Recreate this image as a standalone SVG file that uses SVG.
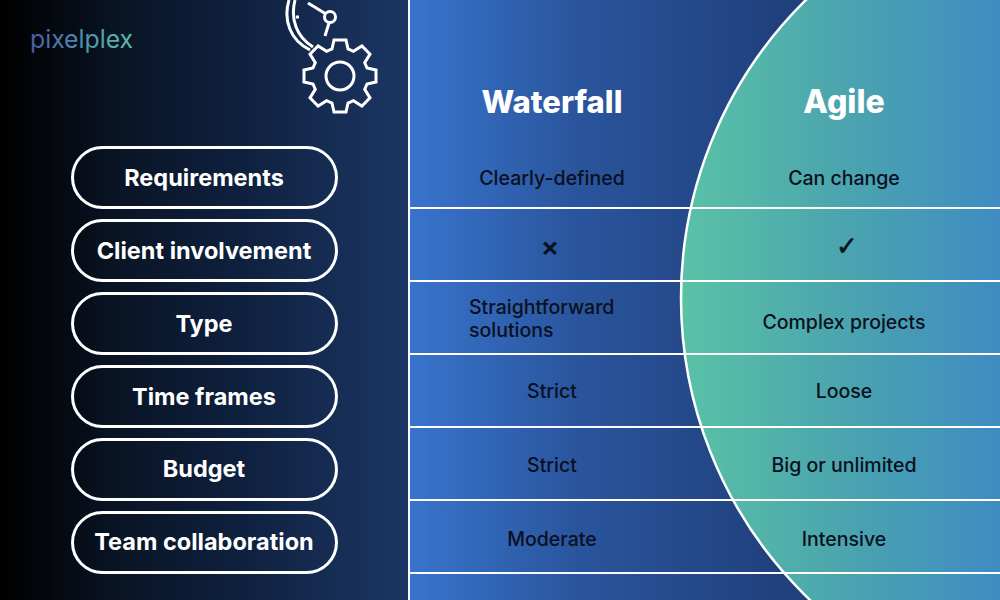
<svg xmlns="http://www.w3.org/2000/svg" width="1000" height="600" viewBox="0 0 1000 600">
<defs>
<linearGradient id="bgL" gradientUnits="userSpaceOnUse" x1="0" y1="0" x2="410" y2="0"><stop offset="0" stop-color="#000"/><stop offset="0.1" stop-color="#03060b"/><stop offset="0.3" stop-color="#0a1526"/><stop offset="0.6" stop-color="#0f2140"/><stop offset="1" stop-color="#1c3765"/></linearGradient>
<linearGradient id="bgR" gradientUnits="userSpaceOnUse" x1="410" y1="0" x2="780" y2="0"><stop offset="0" stop-color="#3874cc"/><stop offset="0.45" stop-color="#2a559d"/><stop offset="1" stop-color="#20407c"/></linearGradient>
<linearGradient id="teal" gradientUnits="userSpaceOnUse" x1="681" y1="0" x2="1000" y2="0"><stop offset="0" stop-color="#5ac2a6"/><stop offset="0.5" stop-color="#4ba5ae"/><stop offset="1" stop-color="#3f8cc2"/></linearGradient>
<linearGradient id="logo" gradientUnits="userSpaceOnUse" x1="30" y1="0" x2="133" y2="0"><stop offset="0" stop-color="#4a5aa8"/><stop offset="0.5" stop-color="#4f8fae"/><stop offset="1" stop-color="#58c2aa"/></linearGradient>
</defs>
<style>
.pill{fill:none;stroke:#fff;stroke-width:3}
.lbl{font:700 23.500px Inter,"Liberation Sans",sans-serif;fill:#fff;text-anchor:middle}
.cell{font:500 19.500px Inter,"Liberation Sans",sans-serif;fill:#0a1020;text-anchor:middle}
.head{font:800 31px Inter,"Liberation Sans",sans-serif;fill:#fff;text-anchor:middle}
.mark{font:700 22px "DejaVu Sans",sans-serif;fill:#0a1020;stroke:#0a1020;stroke-width:.6;text-anchor:middle}
.ln{stroke:#fff;stroke-width:2;fill:none}
.ic{stroke:#fff;stroke-width:3;fill:none}
</style>
<rect width="410" height="600" fill="url(#bgL)"/>
<rect x="410" width="590" height="600" fill="url(#bgR)"/>
<circle id="agile-circle" cx="1099" cy="298" r="418" fill="url(#teal)" stroke="#fff" stroke-width="2.500"/>
<g id="connectors">
<line class="ln" x1="409" y1="0" x2="409" y2="600"/>
<line class="ln" x1="409" y1="208" x2="1000" y2="208"/>
<line class="ln" x1="409" y1="281" x2="1000" y2="281"/>
<line class="ln" x1="409" y1="354" x2="1000" y2="354"/>
<line class="ln" x1="409" y1="427" x2="1000" y2="427"/>
<line class="ln" x1="409" y1="500" x2="1000" y2="500"/>
<line class="ln" x1="409" y1="573" x2="1000" y2="573"/>
</g>
<text id="logo-text" x="30" y="48" font-family="Inter,'Liberation Sans',sans-serif" font-size="25" font-weight="400" fill="url(#logo)" textLength="103" lengthAdjust="spacingAndGlyphs">pixelplex</text>
<g id="icon">
<path class="ic" d="M289 0C283 20 290 40 310 50"/>
<path class="ic" stroke-width="2" d="M295 0C290 20 297 37 313 47"/>
<line class="ic" stroke-width="2" x1="296" y1="17" x2="299" y2="17"/>
<line class="ic" x1="308" y1="3" x2="326" y2="14"/>
<line class="ic" x1="325" y1="36" x2="329" y2="23"/>
<circle class="ic" cx="330" cy="17" r="5.500"/>
<polygon class="ic" transform="translate(340 76)" points="-6,-36 6,-36 8,-27 13.4,-24.7 21.9,-30 30,-21.9 24.7,-13.4 27,-8 36,-6 36,6 27,8 24.7,13.4 30,21.9 21.9,30 13.4,24.7 8,27 6,36 -6,36 -8,27 -13.4,24.7 -21.9,30 -30,21.9 -24.7,13.4 -27,8 -36,6 -36,-6 -27,-8 -24.7,-13.4 -30,-21.9 -21.9,-30 -13.4,-24.7 -8,-27"/>
<circle class="ic" cx="340" cy="76" r="14"/>
</g>
<text class="head" x="552" y="113">Waterfall</text>
<text class="head" style="font-size:32px" x="844" y="113">Agile</text>
<g id="row-requirements"><rect class="pill" x="72.500" y="147.500" width="264" height="60" rx="30"/><text class="lbl" x="204" y="186">Requirements</text></g>
<g id="row-client"><rect class="pill" x="72.500" y="220.500" width="264" height="60" rx="30"/><text class="lbl" x="204" y="259">Client involvement</text></g>
<g id="row-type"><rect class="pill" x="72.500" y="293.500" width="264" height="60" rx="30"/><text class="lbl" x="204" y="332">Type</text></g>
<g id="row-time"><rect class="pill" x="72.500" y="366.500" width="264" height="60" rx="30"/><text class="lbl" x="204" y="405">Time frames</text></g>
<g id="row-budget"><rect class="pill" x="72.500" y="439.500" width="264" height="60" rx="30"/><text class="lbl" x="204" y="477">Budget</text></g>
<g id="row-team"><rect class="pill" x="72.500" y="512.500" width="264" height="60" rx="30"/><text class="lbl" x="204" y="550">Team collaboration</text></g>
<text class="cell" x="552" y="185">Clearly-defined</text>
<text class="cell" x="844" y="185">Can change</text>
<text class="mark" x="550" y="255">×</text>
<text class="mark" style="font-size:26px" x="847" y="255">✓</text>
<text class="cell" style="text-anchor:start" x="469" y="314">Straightforward</text>
<text class="cell" style="text-anchor:start" x="469" y="337">solutions</text>
<text class="cell" x="844" y="329">Complex projects</text>
<text class="cell" x="552" y="398">Strict</text>
<text class="cell" x="844" y="398">Loose</text>
<text class="cell" x="552" y="472">Strict</text>
<text class="cell" x="844" y="472">Big or unlimited</text>
<text class="cell" x="552" y="546">Moderate</text>
<text class="cell" x="844" y="546">Intensive</text>
</svg>
